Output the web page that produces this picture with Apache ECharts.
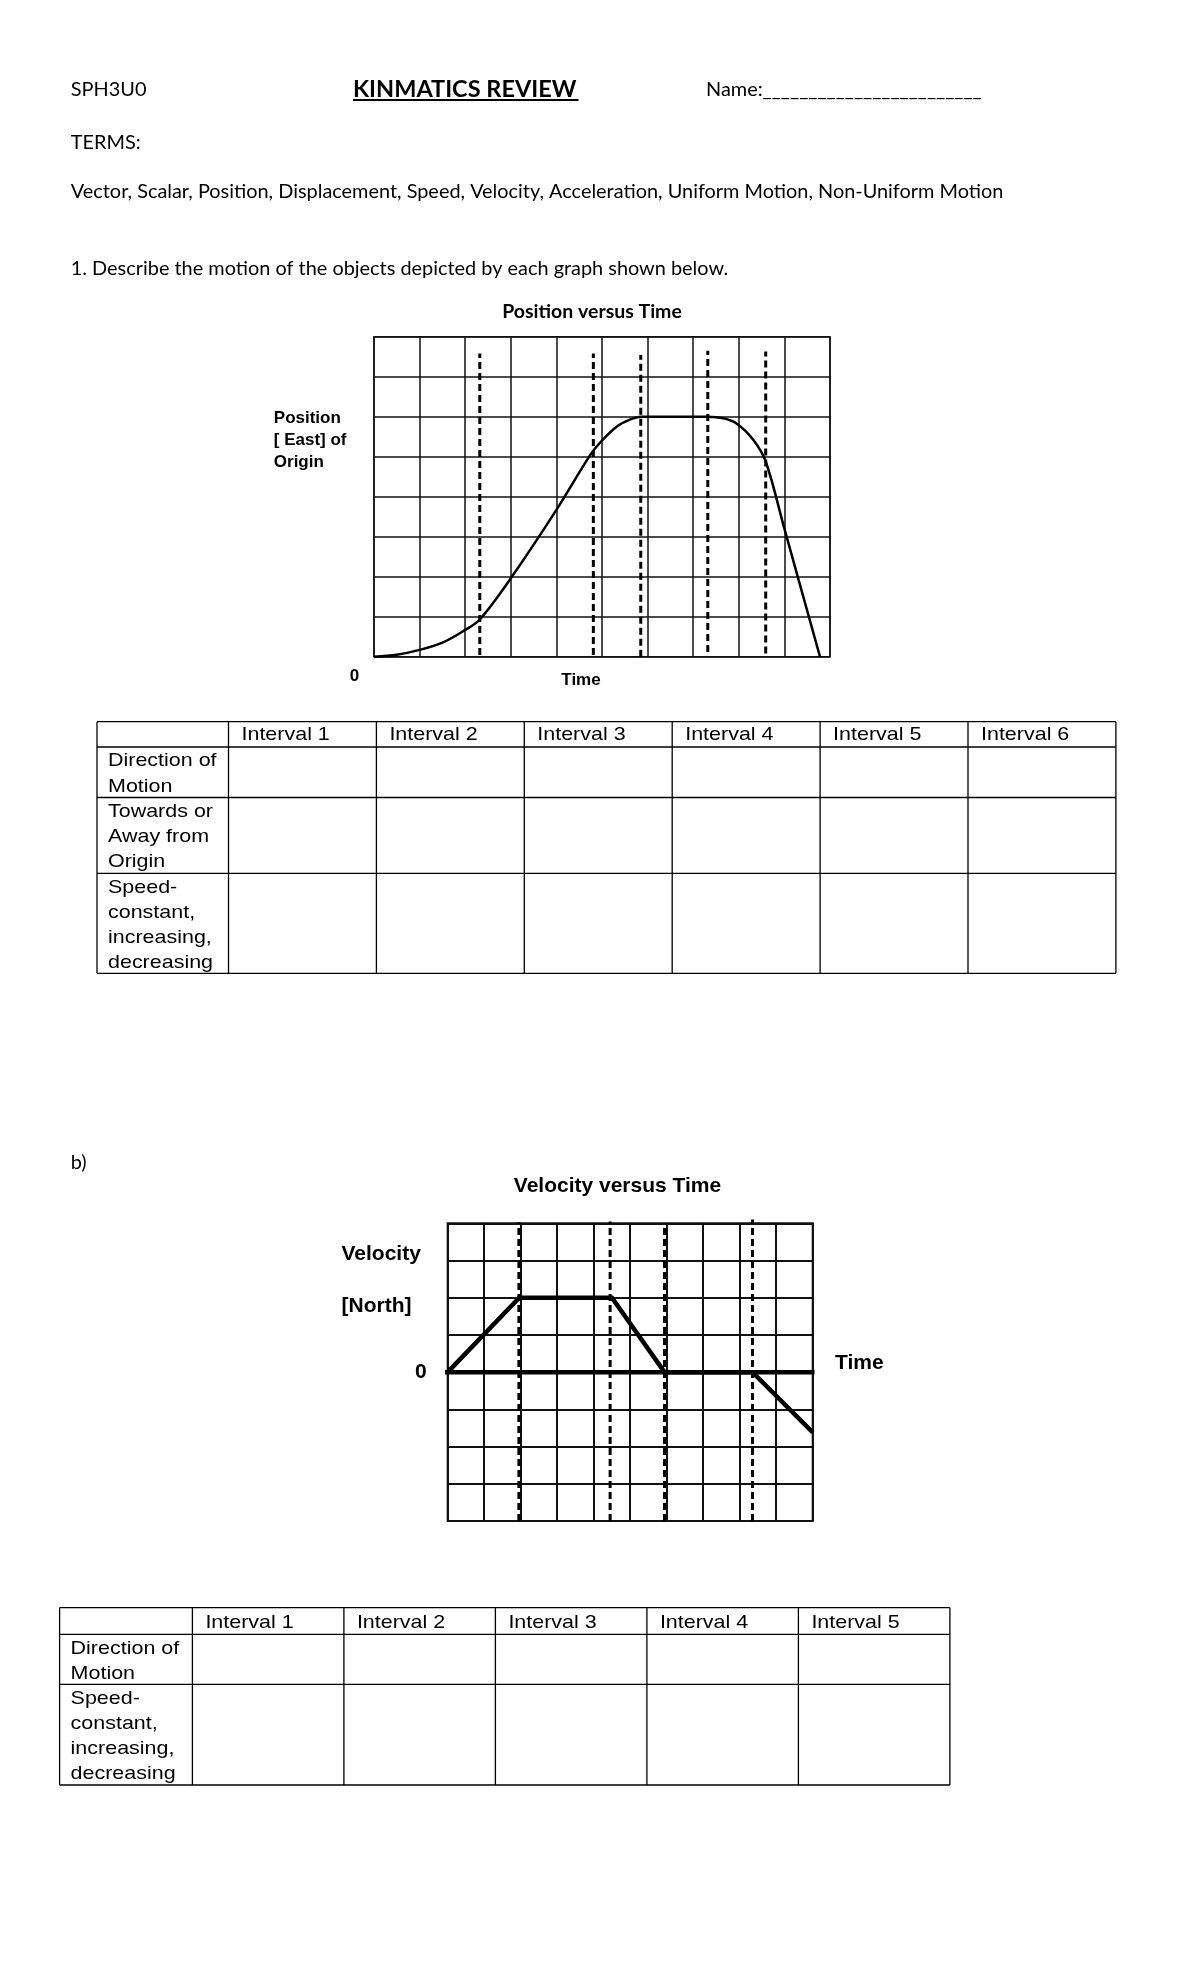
<!DOCTYPE html>
<html>
<head>
<meta charset="utf-8">
<title>Kinematics Review</title>
<script src="https://cdn.jsdelivr.net/npm/echarts@6/dist/echarts.min.js"></script>
<style>
  html, body { margin: 0; padding: 0; background: #fff; }
  #page { width: 1200px; height: 1976px; }
</style>
</head>
<body>
<div id="page"></div>
<script>
// position versus time (grid is 10 x 8 squares)
var posTime  = [0, 0.5, 1, 1.5, 2, 2.32, 3, 4, 4.74, 4.98, 5.32, 5.6, 5.85, 7.32, 7.66, 7.95, 8.32, 8.59, 9, 9.78];
var posValue = [0, 0.05, 0.17, 0.35, 0.67, 0.93, 1.96, 3.67, 5.04, 5.38, 5.75, 5.92, 6, 6, 5.96, 5.83, 5.42, 4.88, 3.2, 0];
var posBounds = [2.32, 4.81, 5.85, 7.32, 8.59];
var posBoundTop = [7.58, 7.58, 7.54, 7.65, 7.63];
var posBoundBottom = [0.04, 0.04, 0, 0.12, 0.08];

// velocity versus time (grid is 10 x 8 squares, zero in the middle)
var velTime  = [0, 1.96, 4.5, 5.94, 8.35, 10];
var velValue = [0, 2, 2, 0, 0, -1.62];
var velBounds = [1.95, 4.45, 5.94, 8.35];
var velBoundTop = [4.03, 4.05, 3.96, 4.1];

// worksheet text
var terms = ['Vector', 'Scalar', 'Position', 'Displacement', 'Speed', 'Velocity', 'Acceleration', 'Uniform Motion', 'Non-Uniform Motion'];
var intervals1 = ['Interval 1', 'Interval 2', 'Interval 3', 'Interval 4', 'Interval 5', 'Interval 6'];
var intervals2 = ['Interval 1', 'Interval 2', 'Interval 3', 'Interval 4', 'Interval 5'];
var rows1 = [['Direction of', 'Motion'], ['Towards or', 'Away from', 'Origin'], ['Speed-', 'constant,', 'increasing,', 'decreasing']];
var rows2 = [['Direction of', 'Motion'], ['Speed-', 'constant,', 'increasing,', 'decreasing']];

var BODY = '19.9px Lato';
var LAB1 = 'bold 17px "Liberation Sans"';
var LAB2 = 'bold 21px "Liberation Sans"';
var TAB = '19px "Liberation Sans"';

function txt(x, y, s, font, align, sx) {
  return {
    type: 'text', x: x, y: y, scaleX: sx || 1, silent: true,
    style: { text: s, font: font, fill: '#000', textAlign: align || 'left', align: align || 'left',
             textVerticalAlign: 'middle', verticalAlign: 'middle' }
  };
}
function hline(x1, x2, y, w) {
  return { type: 'line', silent: true, shape: { x1: x1, y1: y, x2: x2, y2: y }, style: { stroke: '#000', lineWidth: w } };
}
function vline(x, y1, y2, w) {
  return { type: 'line', silent: true, shape: { x1: x, y1: y1, x2: x, y2: y2 }, style: { stroke: '#000', lineWidth: w } };
}

function table(left, top, colW, rowH, heads, rows) {
  var els = [], xs = [left], ys = [top];
  colW.forEach(function (w) { xs.push(xs[xs.length - 1] + w); });
  rowH.forEach(function (h) { ys.push(ys[ys.length - 1] + h); });
  xs.forEach(function (x) { els.push(vline(x, ys[0], ys[ys.length - 1], 1.3)); });
  ys.forEach(function (y) { els.push(hline(xs[0], xs[xs.length - 1], y, 1.3)); });
  heads.forEach(function (h, i) { els.push(txt(xs[i + 1] + 13, ys[1] - 12, h, TAB, 'left', 1.13)); });
  rows.forEach(function (lines, r) {
    lines.forEach(function (s, j) { els.push(txt(left + 11, ys[r + 1] + 14 + 25.3 * j, s, TAB, 'left', 1.13)); });
  });
  return els;
}

var graphics = [
  txt(70.8, 90, 'SPH3U0', BODY),
  txt(353, 89, 'KINMATICS REVIEW', 'bold 23.5px Lato'),
  hline(353, 578.5, 100, 2),
  txt(706, 90, 'Name:________________________', BODY),
  txt(70.8, 143, 'TERMS:', BODY),
  txt(70.8, 192, terms.join(', '), BODY),
  txt(70.8, 269, '1. Describe the motion of the objects depicted by each graph shown below.', BODY),
  txt(592, 311.7, 'Position versus Time', 'bold 19.5px Lato', 'center'),
  txt(273.8, 418.3, 'Position', LAB1),
  txt(273.8, 440, '[ East] of', LAB1),
  txt(273.8, 462.3, 'Origin', LAB1),
  txt(354.6, 676.7, '0', LAB1, 'center'),
  txt(581, 680, 'Time', LAB1, 'center'),
  txt(70.8, 1163, 'b)', BODY),
  txt(617.5, 1186.7, 'Velocity versus Time', 'bold 21px "Liberation Sans"', 'center'),
  txt(341.5, 1254.3, 'Velocity', LAB2),
  txt(341.5, 1306.7, '[North]', LAB2),
  txt(835, 1363.3, 'Time', LAB2)
];
graphics = graphics
  .concat(table(97, 721.7, [131.5, 147.9, 147.9, 147.9, 147.9, 147.9, 147.9], [25.3, 50.5, 75.8, 100], intervals1, rows1))
  .concat(table(59.6, 1607.7, [132.8, 151.5, 151.5, 151.5, 151.5, 151.5], [26.6, 50, 100.7], intervals2, rows2));

function gridAxis(idx, min, max, w) {
  return {
    gridIndex: idx, type: 'value', min: min, max: max, interval: 1,
    axisLine: { show: false }, axisTick: { show: false }, axisLabel: { show: false },
    splitLine: { show: true, lineStyle: { color: '#111', width: w } }
  };
}

var yVel = gridAxis(1, -4, 4, 2);
yVel.axisLabel = {
  show: true, margin: 21, color: '#000', fontFamily: 'Liberation Sans', fontWeight: 'bold', fontSize: 21,
  formatter: function (v) { return v === 0 ? '0' : ''; }
};

var series = [{
  type: 'line', xAxisIndex: 0, yAxisIndex: 0, z: 4, silent: true,
  data: posTime.map(function (t, i) { return [t, posValue[i]]; }),
  smooth: 0.35, symbol: 'none',
  lineStyle: { color: '#000', width: 2.5 }
}];
posBounds.forEach(function (x, i) {
  series.push({
    type: 'line', xAxisIndex: 0, yAxisIndex: 0, z: 3, silent: true, symbol: 'none',
    data: [[x, posBoundBottom[i]], [x, posBoundTop[i]]],
    lineStyle: { color: '#000', width: 3, type: [7, 4] }
  });
});
velBounds.forEach(function (x, i) {
  series.push({
    type: 'line', xAxisIndex: 1, yAxisIndex: 1, z: 3, silent: true, symbol: 'none', clip: false,
    data: [[x, -4], [x, velBoundTop[i]]],
    lineStyle: { color: '#000', width: 3, type: [7, 4] }
  });
});
// time axis through zero
series.push({
  type: 'line', xAxisIndex: 1, yAxisIndex: 1, z: 4, silent: true, symbol: 'none', clip: false,
  data: [[-0.1, 0], [10.05, 0]],
  lineStyle: { color: '#000', width: 4.5 }
});
series.push({
  type: 'line', xAxisIndex: 1, yAxisIndex: 1, z: 5, silent: true, symbol: 'none', clip: false,
  data: velTime.map(function (t, i) { return [t, velValue[i]]; }),
  lineStyle: { color: '#000', width: 4.5, join: 'miter' }
});

var chart = echarts.init(document.getElementById('page'));
chart.setOption({
  animation: false,
  backgroundColor: '#fff',
  grid: [
    { left: 374, top: 336.7, width: 456, height: 320, show: true, borderColor: '#111', borderWidth: 1.5 },
    { left: 447.7, top: 1223.3, width: 365, height: 297.7, show: true, borderColor: '#111', borderWidth: 2 }
  ],
  xAxis: [gridAxis(0, 0, 10, 1.5), gridAxis(1, 0, 10, 2)],
  yAxis: [gridAxis(0, 0, 8, 1.5), yVel],
  series: series,
  graphic: graphics
});
</script>
</body>
</html>
